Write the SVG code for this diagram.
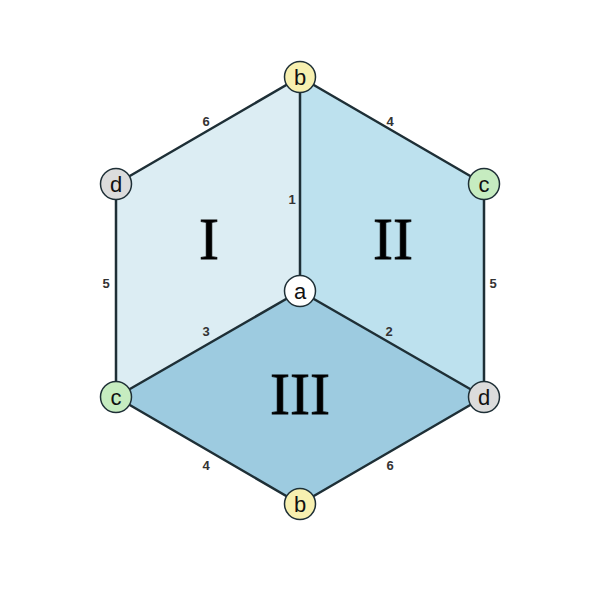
<svg xmlns="http://www.w3.org/2000/svg" width="600" height="600" viewBox="0 0 600 600">
<style>
.face{stroke:none}
.edge{stroke:#1e2f36;stroke-width:2.5;fill:none;stroke-linecap:round}
.node{stroke:#1e2f36;stroke-width:1.5}
.nl{font-family:"Liberation Sans",Arial,sans-serif;font-size:22px;fill:#111;text-anchor:middle;dominant-baseline:central}
.el{font-family:"Liberation Sans",Arial,sans-serif;font-size:13px;font-weight:bold;fill:#333;text-anchor:middle;dominant-baseline:central}
.rn{font-family:"Liberation Serif","Times New Roman",serif;font-size:60px;fill:#000;stroke:#000;stroke-width:0.8;text-anchor:middle;dominant-baseline:central}
</style>
<rect width="600" height="600" fill="#fff"/>
<g id="faces">
<polygon class="face" fill="#dcedf3" points="300,77 116,184 116,397 300,291"/>
<polygon class="face" fill="#bde1ee" points="300,77 484,184 484,397 300,291"/>
<polygon class="face" fill="#9dcbe0" points="300,291 116,397 300,504 484,397"/>
<text class="rn" x="209" y="239">I</text>
<text class="rn" x="393" y="239">II</text>
<text class="rn" x="300" y="394">III</text>
</g>
<g id="connectors">
<line class="edge" x1="300" y1="77" x2="116" y2="184"/>
<line class="edge" x1="300" y1="77" x2="484" y2="184"/>
<line class="edge" x1="300" y1="77" x2="300" y2="291"/>
<line class="edge" x1="116" y1="184" x2="116" y2="397"/>
<line class="edge" x1="484" y1="184" x2="484" y2="397"/>
<line class="edge" x1="300" y1="291" x2="116" y2="397"/>
<line class="edge" x1="300" y1="291" x2="484" y2="397"/>
<line class="edge" x1="116" y1="397" x2="300" y2="504"/>
<line class="edge" x1="484" y1="397" x2="300" y2="504"/>
<text class="el" x="206" y="121">6</text>
<text class="el" x="390" y="121">4</text>
<text class="el" x="292" y="199">1</text>
<text class="el" x="106" y="283">5</text>
<text class="el" x="493" y="283">5</text>
<text class="el" x="206" y="331">3</text>
<text class="el" x="389" y="331">2</text>
<text class="el" x="206" y="465">4</text>
<text class="el" x="390" y="465">6</text>
</g>
<g id="node-b-top"><circle class="node" cx="300" cy="77" r="15.5" fill="#f7f0b0"/><text class="nl" x="300" y="77">b</text></g>
<g id="node-d-left"><circle class="node" cx="116" cy="184" r="15.5" fill="#dcdcdc"/><text class="nl" x="116" y="184">d</text></g>
<g id="node-c-right"><circle class="node" cx="484" cy="184" r="15.5" fill="#c6ecc0"/><text class="nl" x="484" y="184">c</text></g>
<g id="node-a"><circle class="node" cx="300" cy="291" r="15.5" fill="#ffffff"/><text class="nl" x="300" y="291">a</text></g>
<g id="node-c-left"><circle class="node" cx="116" cy="397" r="15.5" fill="#c6ecc0"/><text class="nl" x="116" y="397">c</text></g>
<g id="node-d-right"><circle class="node" cx="484" cy="397" r="15.5" fill="#dcdcdc"/><text class="nl" x="484" y="397">d</text></g>
<g id="node-b-bottom"><circle class="node" cx="300" cy="504" r="15.5" fill="#f7f0b0"/><text class="nl" x="300" y="504">b</text></g>
</svg>
